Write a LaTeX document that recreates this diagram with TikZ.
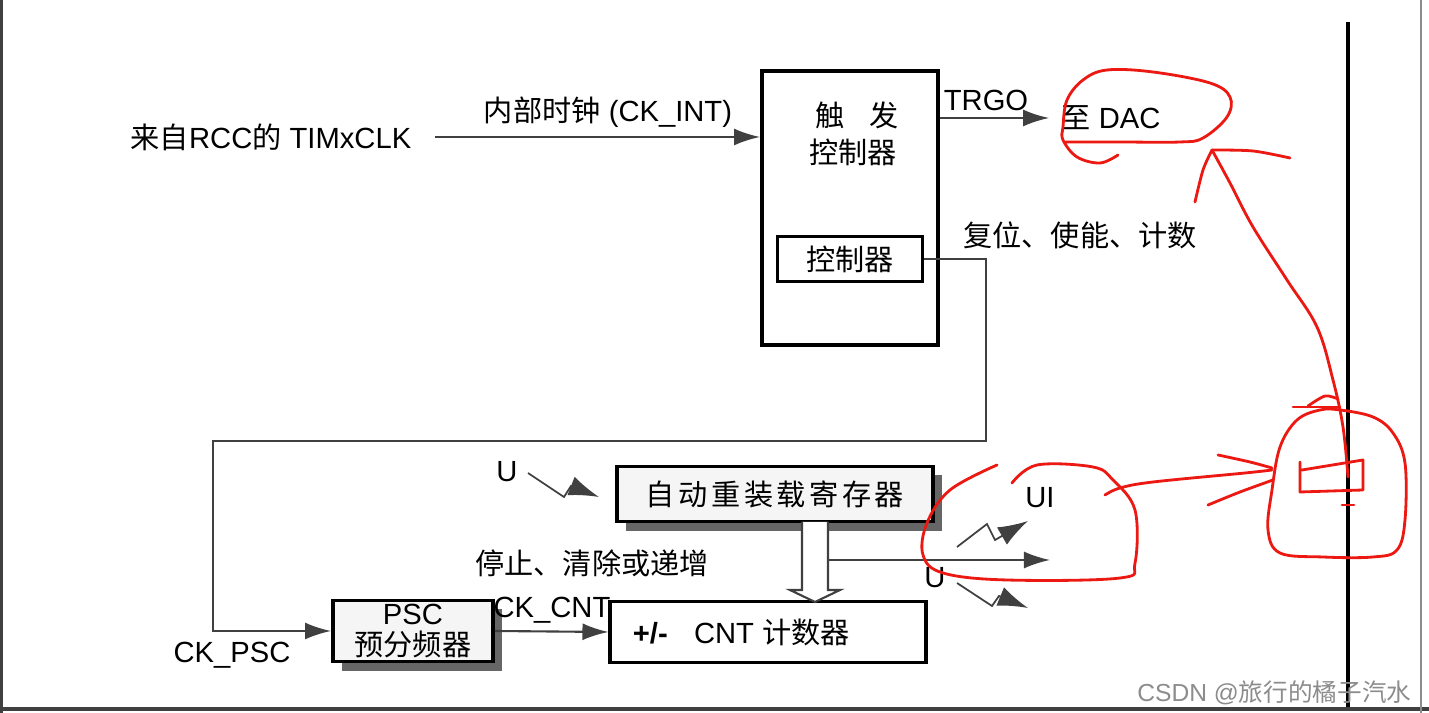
\documentclass[tikz,border=0pt]{standalone}
\usepackage{fontspec}
\setmainfont{Liberation Sans}
\newfontfamily\cjk{Noto Sans CJK SC}
\usepackage{xcolor}
\usetikzlibrary{positioning,arrows.meta,shadows,calc}
\definecolor{ink}{RGB}{236,24,18}

\begin{document}
\begin{tikzpicture}[x=0.01cm,y=-0.01cm,font=\fontsize{8.3}{10}\selectfont,
  blk/.style={draw,line width=1.1pt,inner sep=0pt},
  sblk/.style={blk,fill=gray!8,drop shadow={shadow xshift=0.09cm,shadow yshift=-0.09cm,fill=black!60,opacity=1}},
  wire/.style={draw=black!75,line width=0.6pt},
  arr/.style={wire,-{Latex[length=0.26cm,width=0.17cm]}},
  bolt/.style={wire,line width=0.5pt,-{Latex[length=0.3cm,width=0.2cm]}},
  redink/.style={draw=ink,line width=0.8pt,line cap=round,line join=round}]
\useasboundingbox (0,0) rectangle (1429,713);
% frame
\draw[black!75,line width=1pt] (1,0) -- (1,713);
\draw[black!75,line width=1pt] (0,709) -- (1429,709);
\draw[black!45,line width=0.6pt] (1421,0) -- (1421,713);
\draw[line width=1.4pt] (1348,22) -- (1348,707);
% trigger controller
\node[blk,minimum width=1.76cm,minimum height=2.73cm] (trig) at (850,208) {};
\node (trigA) at (857,115) {\cjk 触\hspace{0.85em}发};
\node (trigB) at (853,152) {\cjk 控制器};
\node[blk,line width=0.9pt,minimum width=1.45cm,minimum height=0.45cm] (ctrl) at (850,259) {\cjk 控制器};
\node (clk) at (271,137) {{\cjk 来自}RCC{\cjk 的} TIMxCLK};
\coordinate (clkin) at (435,137);
\draw[arr] (clkin) -- (clkin -| trig.west);
\node (ckint) at (608,112) {{\cjk 内部时钟} (CK\_INT)};
\node (dac) at (1111,118) {{\cjk 至} DAC};
\draw[arr] (trig.east |- dac) -- (dac.west);
\node (trgo) at (986,100) {TRGO};
\node (rst) at (1080,235) {\cjk 复位、使能、计数};
% counter chain
\node[sblk,minimum width=1.6cm,minimum height=0.61cm,align=center,font=\fontsize{8.3}{8.6}\selectfont] (psc) at (413,631) {PSC\\{\cjk 预分频器}};
\node (ckpsc) at (232,655) {CK\_PSC};
\coordinate (bend) at (986,441);
\coordinate (lft) at (213,441);
\draw[arr] (ctrl.east) -| (bend) -- (lft) |- (psc.west);
\node[blk,minimum width=3.15cm,minimum height=0.61cm] (cnt) at (768,632) {};
\node[anchor=west] (cnttxt) at ([xshift=0.12cm]cnt.west) {\textbf{+/-}\hspace{0.9em}CNT {\cjk 计数器}};
\draw[arr] (psc.east) -- (cnt.west);
\node (ckcnt) at (552,610) {CK\_CNT};
\node[sblk,minimum width=3.16cm,minimum height=0.55cm] (reload) at (775,494) {\cjk\addfontfeatures{LetterSpace=12}自动重装载寄存器};
\draw[wire,fill=white] (802,522) -- (802,590) -- (790,590) -- (815,602) -- (840,590) -- (828,590) -- (828,522);
\node (stop) at (592,563) {\cjk 停止、清除或递增};
\coordinate (uiout) at (1050,560);
\draw[arr] (828,560) -- (uiout);
% update events
\node (u1) at (507,472) {U};
\draw[bolt] (528,473) -- (564,497) -- (571,486) -- (599,497);
\node (ui) at (1040,498) {UI};
\draw[bolt] (957,547) -- (987,524) -- (995,540) -- (1028,521);
\node (u2) at (935,578) {U};
\draw[bolt] (957,583) -- (992,606) -- (999,596) -- (1028,608);
\node[text=black!45,font=\fontsize{7}{9}\selectfont,anchor=east,inner sep=0pt] (wm) at (1412,693) {CSDN @{\cjk 旅行的橘子汽水}};
% red notes
\draw[redink] plot[smooth,tension=0.6] coordinates {(1118,155) (1100,163) (1077,157) (1063,140) (1063,127) (1067,100) (1083,80) (1107,70) (1153,72) (1210,83) (1230,97) (1227,117) (1203,138) (1180,142) (1120,142) (1066,142)};
\draw[redink] plot[smooth,tension=0.6] coordinates {(1348,477) (1343,427) (1333,380) (1317,327) (1287,280) (1253,227) (1230,183) (1212,150)};
\draw[redink] plot[smooth] coordinates {(1195,202) (1203,170) (1212,150)};
\draw[redink] plot[smooth] coordinates {(1212,150) (1253,151) (1290,158)};
\draw[redink] plot[smooth,tension=0.6] coordinates {(1012,483) (1037,465) (1093,467) (1113,480) (1135,510) (1135,563) (1120,578) (1007,580) (943,573) (923,555) (927,523) (950,490) (997,465)};
\draw[redink] plot[smooth,tension=0.6] coordinates {(1105,495) (1120,488) (1153,482) (1245,473) (1272,470)};
\draw[redink] plot[smooth] coordinates {(1218,455) (1250,462) (1272,468)};
\draw[redink] plot[smooth] coordinates {(1208,505) (1240,492) (1273,480)};
\draw[redink] plot[smooth cycle,tension=0.6] coordinates {(1340,410) (1373,417) (1393,433) (1405,463) (1405,520) (1397,550) (1373,557) (1323,557) (1280,553) (1268,530) (1272,490) (1280,447) (1297,420) (1320,410)};
\draw[redink] (1293,407) -- (1340,407);
\draw[redink] plot[smooth] coordinates {(1308,406) (1325,396) (1338,399)};
\draw[redink] (1300,462) -- (1300,492) -- (1363,490) -- (1363,460) -- (1302,470);
\draw[redink] (1342,505) -- (1354,505);
\end{tikzpicture}
\end{document}
